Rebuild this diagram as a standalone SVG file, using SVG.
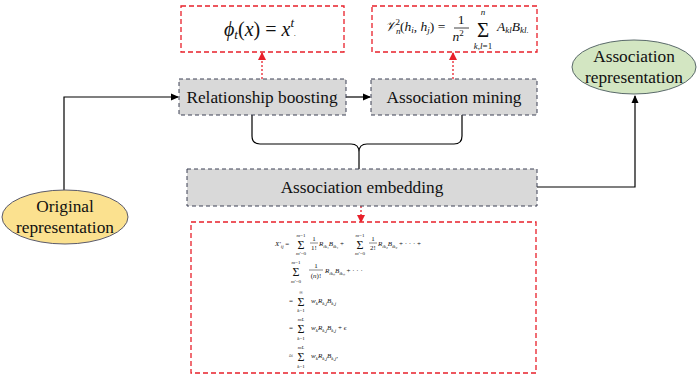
<svg xmlns="http://www.w3.org/2000/svg" width="700" height="378" viewBox="0 0 700 378">
<defs>
<marker id="ab" markerWidth="8" markerHeight="8" refX="7" refY="4" orient="auto" markerUnits="userSpaceOnUse"><path d="M0,0.5 L8,4 L0,7.5 Z" fill="#000"/></marker>
<marker id="ar" markerWidth="8" markerHeight="8" refX="7" refY="4" orient="auto" markerUnits="userSpaceOnUse"><path d="M0,0 L8,4 L0,8 Z" fill="#e8202a"/></marker>
</defs>
<style>
text{font-family:'Liberation Serif','Times New Roman',serif}
.proc{fill:#d9d9d9;stroke:#3c4055;stroke-width:1;stroke-dasharray:4,3}
.fbox{fill:#fff;stroke:#e8202a;stroke-width:1.3;stroke-dasharray:5,3}
.lbl{font-size:17.3px;fill:#111;text-anchor:middle}
.m{font-style:italic;fill:#111}
.mu{font-style:normal;fill:#111}
.conn{fill:none;stroke:#000;stroke-width:1.2}
.dot{fill:none;stroke:#e8202a;stroke-width:1.3;stroke-dasharray:2,2}
</style>
<rect width="700" height="378" fill="#fff"/>

<g id="connectors">
<path class="conn" d="M64,190 V97 H178" marker-end="url(#ab)"/>
<path class="conn" d="M346,97 H370" marker-end="url(#ab)"/>
<path class="conn" d="M537,187 H635 V96" marker-end="url(#ab)"/>
<path class="conn" d="M252,115 V136 Q252,144 260,144 H351 Q359,144 359,152 V169 M359,152 Q359,144 367,144 H454 Q462,144 462,136 V115"/>
<path class="dot" d="M262,79 V53" marker-end="url(#ar)"/>
<path class="dot" d="M453,79 V53" marker-end="url(#ar)"/>
<path class="dot" d="M361,206 V222" marker-end="url(#ar)"/>
</g>

<g id="formula1">
<rect class="fbox" x="181" y="6" width="163" height="46"/>
<text class="m" x="224" y="36" font-size="20">ϕ<tspan font-size="13" dy="3">t</tspan><tspan dy="-3" class="mu">(</tspan>x<tspan class="mu">) = </tspan>x<tspan font-size="13" dy="-9">t</tspan><tspan font-size="8" dy="9">.</tspan></text>
</g>

<g id="formula2">
<rect class="fbox" x="372" y="6" width="165" height="46"/>
<text class="m" x="385" y="31" font-size="13.5">𝒱<tspan font-size="9" dy="3">n</tspan><tspan font-size="9" dx="-5" dy="-9" class="mu">2</tspan><tspan dy="6" class="mu">(</tspan>h<tspan font-size="9" dy="2">i</tspan><tspan dy="-2" class="mu">, </tspan>h<tspan font-size="9" dy="2">j</tspan><tspan dy="-2" class="mu">) = </tspan></text>
<text class="mu" x="461" y="24" font-size="13.5" text-anchor="middle">1</text>
<line x1="454" y1="28" x2="469" y2="28" stroke="#111" stroke-width="0.8"/>
<text class="m" x="458" y="41" font-size="13.5" text-anchor="middle">n<tspan font-size="9" dy="-5" class="mu">2</tspan></text>
<text class="mu" x="483" y="37" font-size="21" text-anchor="middle">Σ</text>
<text class="m" x="483" y="15" font-size="9" text-anchor="middle">n</text>
<text class="m" x="483" y="49" font-size="9" text-anchor="middle">k,l<tspan class="mu">=1</tspan></text>
<text class="m" x="497" y="31" font-size="13.5">A<tspan font-size="9" dy="2">kl</tspan><tspan dy="-2">B</tspan><tspan font-size="9" dy="2">kl</tspan><tspan font-size="8" class="mu">.</tspan></text>
</g>

<g id="formula3">
<rect class="fbox" x="191" y="222" width="345" height="151"/>
<text class="m" x="275" y="246" font-size="7">X′<tspan font-size="5" dy="2">ij</tspan><tspan class="mu" dy="-2"> =</tspan></text>
<text class="mu" x="301" y="249" font-size="12" text-anchor="middle">Σ</text>
<text class="m" x="301" y="237" font-size="5" text-anchor="middle">m<tspan class="mu">−1</tspan></text>
<text class="m" x="301" y="255" font-size="5" text-anchor="middle">m′<tspan class="mu">=0</tspan></text>
<text class="mu" x="314" y="241" font-size="7" text-anchor="middle">1</text>
<line x1="310" y1="243" x2="318" y2="243" stroke="#111" stroke-width="0.5"/>
<text class="mu" x="314" y="250" font-size="7" text-anchor="middle">1!</text>
<text class="m" x="319" y="246" font-size="7">R<tspan font-size="5" dy="1.5">ik₁</tspan><tspan dy="-1.5">B</tspan><tspan font-size="5" dy="1.5">ik₁</tspan><tspan class="mu" dy="-1.5"> +</tspan></text>
<text class="mu" x="360" y="249" font-size="12" text-anchor="middle">Σ</text>
<text class="m" x="360" y="237" font-size="5" text-anchor="middle">m<tspan class="mu">−1</tspan></text>
<text class="m" x="360" y="255" font-size="5" text-anchor="middle">m′<tspan class="mu">=0</tspan></text>
<text class="mu" x="373" y="241" font-size="7" text-anchor="middle">1</text>
<line x1="369" y1="243" x2="377" y2="243" stroke="#111" stroke-width="0.5"/>
<text class="mu" x="373" y="250" font-size="7" text-anchor="middle">2!</text>
<text class="m" x="378" y="246" font-size="7">R<tspan font-size="5" dy="1.5">ik₂</tspan><tspan dy="-1.5">B</tspan><tspan font-size="5" dy="1.5">ik₂</tspan><tspan class="mu" dy="-1.5"> + · · · +</tspan></text>

<text class="mu" x="296" y="276" font-size="12" text-anchor="middle">Σ</text>
<text class="m" x="296" y="264" font-size="5" text-anchor="middle">m<tspan class="mu">−1</tspan></text>
<text class="m" x="296" y="283" font-size="5" text-anchor="middle">m′<tspan class="mu">=0</tspan></text>
<text class="mu" x="316" y="268" font-size="7" text-anchor="middle">1</text>
<line x1="309" y1="270" x2="323" y2="270" stroke="#111" stroke-width="0.5"/>
<text class="mu" x="316" y="278" font-size="7" text-anchor="middle">(<tspan class="m">n</tspan>)!</text>
<text class="m" x="325" y="273" font-size="7">R<tspan font-size="5" dy="1.5">ikₙ</tspan><tspan dy="-1.5">B</tspan><tspan font-size="5" dy="1.5">ikₙ</tspan><tspan class="mu" dy="-1.5"> + · · ·</tspan></text>

<text class="mu" x="289" y="303" font-size="7">=</text>
<text class="mu" x="301" y="306" font-size="12" text-anchor="middle">Σ</text>
<text class="mu" x="301" y="294" font-size="5" text-anchor="middle">∞</text>
<text class="m" x="301" y="312" font-size="5" text-anchor="middle">k<tspan class="mu">=1</tspan></text>
<text class="m" x="311" y="303" font-size="7">w<tspan font-size="5" dy="1.5">k</tspan><tspan dy="-1.5">R</tspan><tspan font-size="5" dy="1.5">k,j</tspan><tspan dy="-1.5">B</tspan><tspan font-size="5" dy="1.5">k,j</tspan></text>

<text class="mu" x="289" y="330" font-size="7">=</text>
<text class="mu" x="301" y="333" font-size="12" text-anchor="middle">Σ</text>
<text class="m" x="301" y="321" font-size="5" text-anchor="middle">mL</text>
<text class="m" x="301" y="340" font-size="5" text-anchor="middle">k<tspan class="mu">=1</tspan></text>
<text class="m" x="311" y="330" font-size="7">w<tspan font-size="5" dy="1.5">k</tspan><tspan dy="-1.5">R</tspan><tspan font-size="5" dy="1.5">k,j</tspan><tspan dy="-1.5">B</tspan><tspan font-size="5" dy="1.5">k,j</tspan><tspan class="mu" dy="-1.5"> + </tspan>ϵ</text>

<text class="mu" x="289" y="358" font-size="7">≈</text>
<text class="mu" x="301" y="361" font-size="12" text-anchor="middle">Σ</text>
<text class="m" x="301" y="349" font-size="5" text-anchor="middle">mL</text>
<text class="m" x="301" y="368" font-size="5" text-anchor="middle">k<tspan class="mu">=1</tspan></text>
<text class="m" x="311" y="358" font-size="7">w<tspan font-size="5" dy="1.5">k</tspan><tspan dy="-1.5">R</tspan><tspan font-size="5" dy="1.5">k,j</tspan><tspan dy="-1.5">B</tspan><tspan font-size="5" dy="1.5">k,j</tspan><tspan class="mu" dy="-1.5">,</tspan></text>
</g>

<g id="relationship-boosting">
<rect class="proc" x="179" y="79" width="167" height="36"/>
<text class="lbl" x="262" y="103">Relationship boosting</text>
</g>
<g id="association-mining">
<rect class="proc" x="371" y="79" width="166" height="36"/>
<text class="lbl" x="454" y="103">Association mining</text>
</g>
<g id="association-embedding">
<rect class="proc" x="187" y="169" width="350" height="37"/>
<text class="lbl" x="362" y="193">Association embedding</text>
</g>
<g id="original-representation">
<ellipse cx="65" cy="217" rx="63" ry="27" fill="#fbe18f" stroke="#5a5a6a" stroke-width="1"/>
<text class="lbl" x="65" y="212">Original</text>
<text class="lbl" x="65" y="233">representation</text>
</g>
<g id="association-representation">
<ellipse cx="634" cy="67" rx="62" ry="27" fill="#d3e6c2" stroke="#5a6a6a" stroke-width="1"/>
<text class="lbl" x="634" y="62">Association</text>
<text class="lbl" x="634" y="83">representation</text>
</g>
</svg>
